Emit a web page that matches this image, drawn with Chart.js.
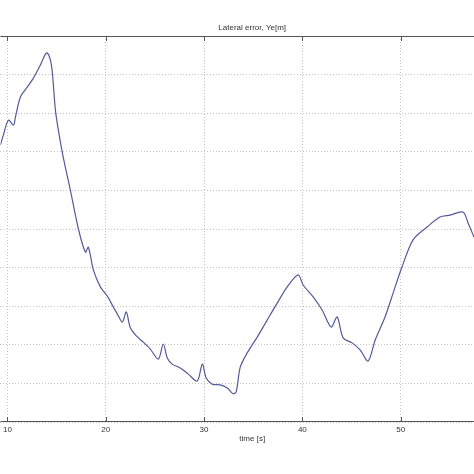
<!DOCTYPE html>
<html>
<head>
<meta charset="utf-8">
<script src="https://cdn.jsdelivr.net/npm/chart.js@4"></script>
<style>
  html, body { margin: 0; padding: 0; background: #fff; }
</style>
</head>
<body>
<canvas id="errorChart" width="474" height="474"></canvas>
<script>
// time axis [s]
const timeS = [9.29, 9.59, 10.10, 10.61, 10.81, 11.32, 12.03, 12.64, 13.35, 13.86, 14.07, 14.37, 14.57,
  14.88, 15.18, 15.69, 16.40, 17.22, 17.93, 18.23, 18.74, 19.45, 20.16, 20.77, 21.28, 21.69, 22.09,
  22.50, 23.11, 23.82, 24.53, 25.35, 25.85, 26.26, 26.77, 27.58, 28.39, 29.31, 29.82, 30.22, 30.83,
  31.65, 32.36, 32.97, 33.27, 33.68, 34.39, 35.41, 36.42, 37.44, 38.46, 39.57, 40.08, 41.10, 42.01,
  42.93, 43.54, 44.15, 45.06, 45.87, 46.69, 47.40, 48.41, 49.23, 50.14, 51.26, 52.68, 54.00,
  55.02, 56.34, 56.85, 57.46];
// lateral error, in grid units (y labels are cropped off the original)
const lateralErr = [7.18, 7.44, 7.82, 7.69, 7.90, 8.42, 8.68, 8.91, 9.25, 9.53, 9.56, 9.38, 9.04,
  8.08, 7.56, 6.84, 6.01, 5.00, 4.40, 4.53, 3.94, 3.50, 3.26, 2.98, 2.75, 2.59, 2.85,
  2.44, 2.23, 2.07, 1.89, 1.63, 2.02, 1.66, 1.50, 1.40, 1.24, 1.06, 1.50, 1.14, 0.98,
  0.96, 0.88, 0.73, 0.78, 1.42, 1.79, 2.20, 2.64, 3.08, 3.50, 3.81, 3.55, 3.24, 2.90,
  2.46, 2.72, 2.18, 2.05, 1.87, 1.58, 2.12, 2.72, 3.34, 4.02, 4.72, 5.05, 5.31,
  5.36, 5.44, 5.16, 4.79];
const xTicks = [10, 20, 30, 40, 50];
const xRange = [9.29, 57.46];
const yRange = [0, 10];
const titleText = 'Lateral error, Ye[m]';
const xLabel = 'time [s]';

// matlab style frame, inward ticks and off-centre labels
const matlabFrame = {
  id: 'matlabFrame',
  afterDraw(chart) {
    const ctx = chart.ctx;
    const a = chart.chartArea;
    const xs = chart.scales.x;
    ctx.save();
    ctx.strokeStyle = '#555';
    ctx.lineWidth = 1;
    ctx.beginPath();
    ctx.moveTo(a.left, a.top + 0.5); ctx.lineTo(a.right, a.top + 0.5);
    ctx.moveTo(a.left, a.bottom - 0.5); ctx.lineTo(a.right, a.bottom - 0.5);
    xTicks.forEach(function (v) {
      const px = Math.round(xs.getPixelForValue(v)) + 0.5;
      ctx.moveTo(px, a.bottom); ctx.lineTo(px, a.bottom - 5);
      ctx.moveTo(px, a.top); ctx.lineTo(px, a.top + 5);
    });
    ctx.stroke();
    ctx.fillStyle = '#333';
    ctx.font = '8px "Liberation Sans", Arial, sans-serif';
    ctx.textAlign = 'center';
    ctx.textBaseline = 'middle';
    const cx = xs.getPixelForValue(34.9);
    ctx.fillText(titleText, cx, a.top - 8);
    ctx.fillText(xLabel, cx, a.bottom + 17);
    ctx.restore();
  }
};

const ctx = document.getElementById('errorChart').getContext('2d');
new Chart(ctx, {
  type: 'line',
  data: {
    datasets: [{
      data: timeS.map((t, i) => ({ x: t, y: lateralErr[i] })),
      borderColor: '#555a98',
      borderWidth: 1.2,
      pointRadius: 0,
      fill: false,
      tension: 0.3,
    }],
  },
  options: {
    responsive: false,
    animation: false,
    layout: { padding: { top: 36, left: 0, right: 0, bottom: 0 } },
    plugins: {
      legend: { display: false },
      tooltip: { enabled: false },
    },
    scales: {
      x: {
        type: 'linear',
        min: xRange[0],
        max: xRange[1],
        afterBuildTicks: function (scale) {
          scale.ticks = xTicks.map(v => ({ value: v }));
        },
        afterFit: function (scale) { scale.height = 52; },
        grid: {
          color: '#c4c4c4',
          lineWidth: 1,
          drawTicks: false,
        },
        border: { display: false, dash: [1, 2] },
        ticks: {
          padding: 3,
          color: '#333',
          font: { size: 8, family: '"Liberation Sans", Arial, sans-serif' },
          maxRotation: 0,
        },
      },
      y: {
        min: yRange[0],
        max: yRange[1],
        ticks: { display: false, stepSize: 1 },
        afterFit: function (scale) { scale.width = 0; },
        grid: { color: '#c4c4c4', lineWidth: 1, drawTicks: false },
        border: { display: false, dash: [1, 2] },
      },
    },
  },
  plugins: [matlabFrame],
});
</script>
</body>
</html>
